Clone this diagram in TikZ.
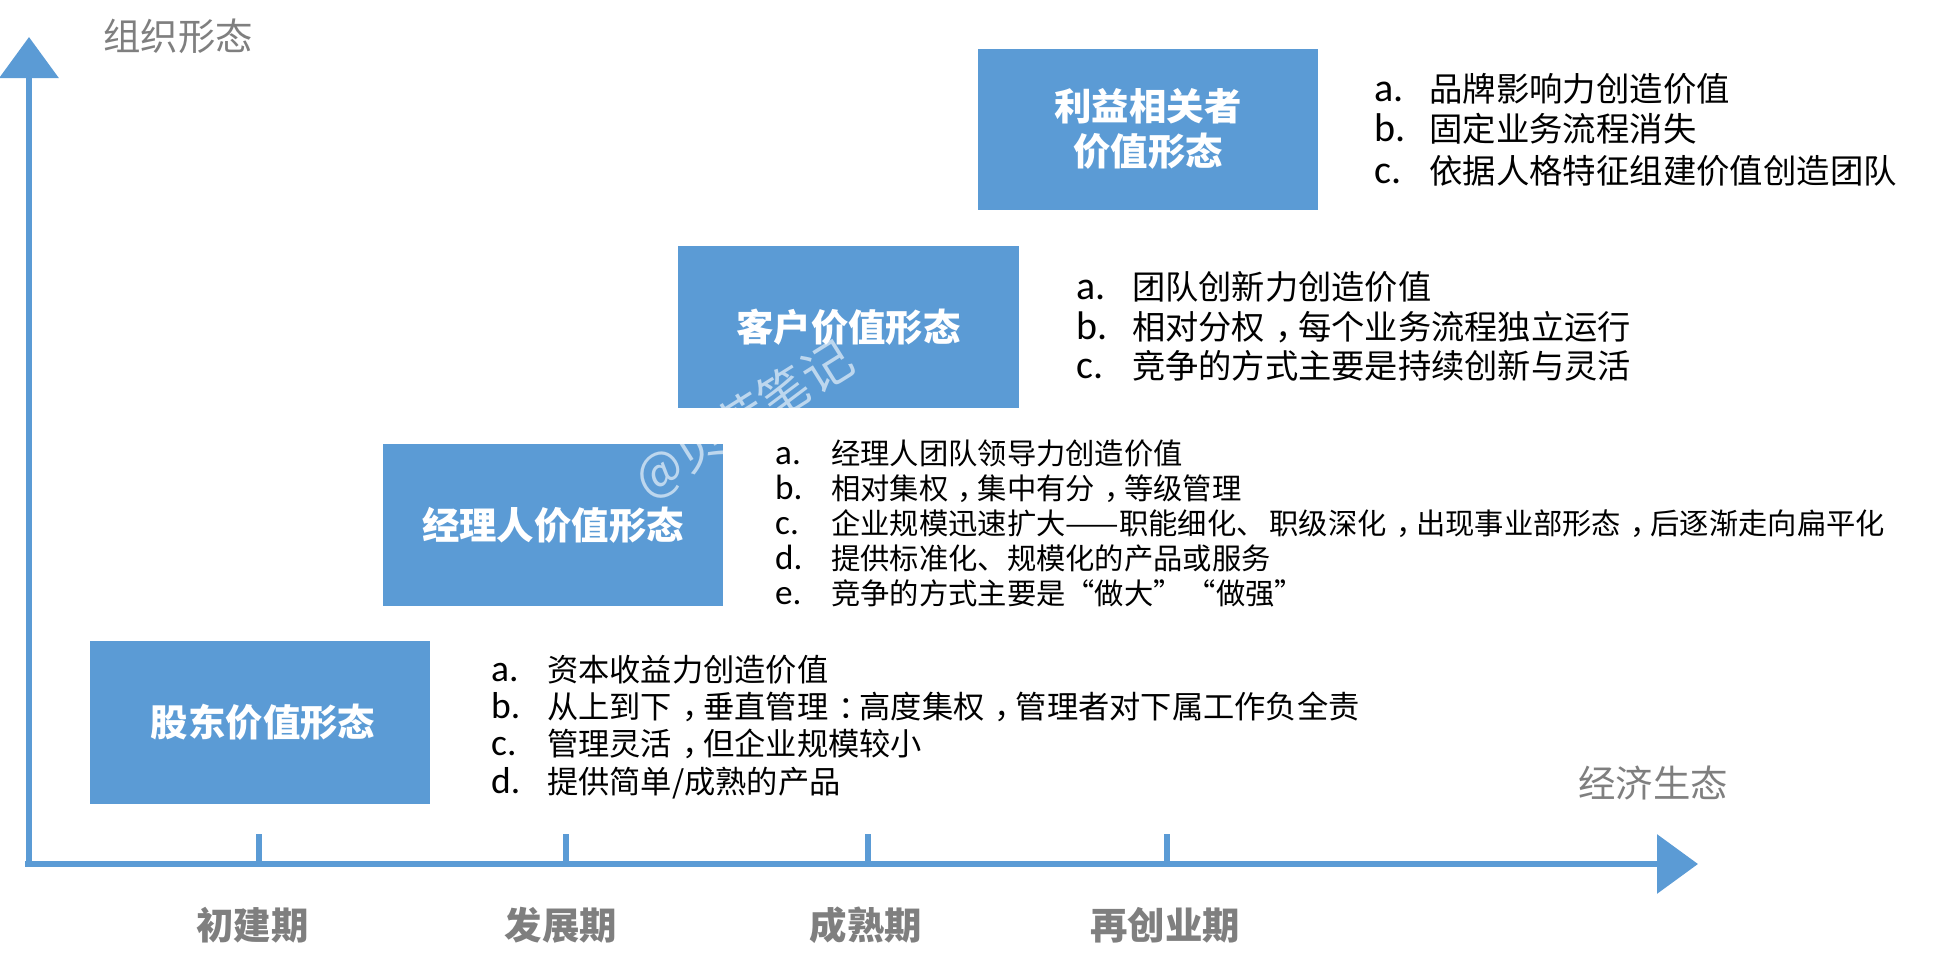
\documentclass[tikz,border=0pt]{standalone}
\usepackage{fontspec}
\usetikzlibrary{arrows.meta}
\setmainfont{Carlito}
\newfontfamily\cjk{Noto Sans CJK SC}
\definecolor{bluebox}{HTML}{5B9BD5}
\definecolor{greytxt}{HTML}{7F7F7F}
\newcommand{\fs}[1]{\fontsize{#1}{#1}\selectfont}
\newcommand{\cm}{\hspace{.32em}，\hspace{-.32em}}
\newcommand{\cn}{\hspace{.32em}：\hspace{-.32em}}
\tikzset{
  x=1pt,y=1pt,
  stagebox/.style={fill=bluebox,draw=none,inner sep=0pt,align=center,text=white,font=\cjk\bfseries\fs{37.4}},
  axisline/.style={draw=bluebox,line width=6.5pt,-{Triangle[length=41pt,width=58pt]}},
  tickline/.style={draw=bluebox,line width=5.5pt},
  axislabel/.style={text=greytxt,inner sep=0pt,font=\cjk\fs{37.4}},
  phaselabel/.style={text=greytxt,inner sep=0pt,font=\cjk\bfseries\fs{37.4}},
  itemtxt/.style={anchor=base west,inner sep=0pt,text=black},
}
% \li{name}{label x}{text x}{baseline y}{size}{label}{text}
\newcommand{\li}[7]{%
  \pgfmathsetmacro\lsz{#5*1.2}%
  \node[itemtxt,font=\fs{\lsz}] (#1l) at (#2,-#4) {#6};
  \node[itemtxt,font=\cjk\fs{#5}] (#1t) at (#3,-#4) {#7};
}
\begin{document}
\begin{tikzpicture}
\useasboundingbox (0,0) rectangle (1955,-969);
\fill[white] (0,0) rectangle (1955,-969);
% boxes
\node[stagebox,minimum width=340.5pt,minimum height=161pt] (s4) at (1148,-129) {\raisebox{-1pt}{利益相关者}\\[7pt]\raisebox{-1pt}{价值形态}};
\node[stagebox,minimum width=341pt,minimum height=162pt] (s3) at (848.5,-327) {客户价值形态};
\node[stagebox,minimum width=340pt,minimum height=162pt] (s2) at (553,-525) {经理人价值形态};
\node[stagebox,minimum width=340pt,minimum height=163pt] (s1) at (260,-722.5) {\hspace{6pt}股东价值形态};
% watermark
\node[text=white,opacity=0.6,rotate=32,inner sep=0pt,font=\cjk\fs{50}] (wm) at (744,-420) {@贝茉笔记};
% axes
\coordinate (origin) at (28,-864);
\coordinate (ytip) at (29,-37);
\coordinate (xtip) at (1698,-864);
\draw[axisline] (29,-867) -- (ytip);
\draw[axisline] (25,-864) -- (xtip);
\foreach \n/\x in {1/259,2/566,3/868,4/1167}{
  \coordinate (t\n) at (\x,-862);
  \coordinate (u\n) at (\x,-834);
  \draw[tickline] (t\n) -- (u\n);
}
% axis labels
\node[axislabel] (ylab) at (178,-36) {组织形态};
\node[axislabel] (xlab) at (1653,-783) {经济生态};
\node[phaselabel] (p1) at (252.5,-925) {初建期};
\node[phaselabel] (p2) at (561,-925) {发展期};
\node[phaselabel] (p3) at (866,-925) {成熟期};
\node[phaselabel] (p4) at (1165,-925) {再创业期};
% stakeholder list
\li{a4}{1374}{1429}{101}{33.4}{a.}{品牌影响力创造价值}
\li{b4}{1374}{1429}{141}{33.4}{b.}{固定业务流程消失}
\li{c4}{1374}{1429}{183}{33.4}{c.}{依据人格特征组建价值创造团队}
% customer list
\li{a3}{1076}{1132}{299}{33.25}{a.}{团队创新力创造价值}
\li{b3}{1076}{1132}{339}{33.25}{b.}{相对分权\cm 每个业务流程独立运行}
\li{c3}{1076}{1132}{378}{33.25}{c.}{竞争的方式主要是持续创新与灵活}
% manager list
\li{a2}{775}{831}{464}{29.3}{a.}{经理人团队领导力创造价值}
\li{b2}{775}{831}{499}{29.3}{b.}{相对集权\cm 集中有分\cm 等级管理}
\li{c2}{775}{831}{534}{29.3}{c.}{企业规模迅速扩大\scalebox{1.09}[1]{——}职能细化、\hspace{4pt}职级深化\cm 出现事业部形态\cm 后逐渐走向扁平化}
\li{d2}{775}{831}{569}{29.3}{d.}{提供标准化、规模化的产品或服务}
\li{e2}{775}{831}{604}{29.3}{e.}{竞争的方式主要是“做大”\hspace{4pt}“做强”}
% shareholder list
\li{a1}{491}{547}{681}{31.25}{a.}{资本收益力创造价值}
\li{b1}{491}{547}{718}{31.25}{b.}{从上到下\cm 垂直管理\cn 高度集权\cm 管理者对下属工作负全责}
\li{c1}{491}{547}{755}{31.25}{c.}{管理灵活\cm 但企业规模较小}
\li{d1}{491}{547}{793}{31.25}{d.}{提供简单/成熟的产品}
\end{tikzpicture}
\end{document}
